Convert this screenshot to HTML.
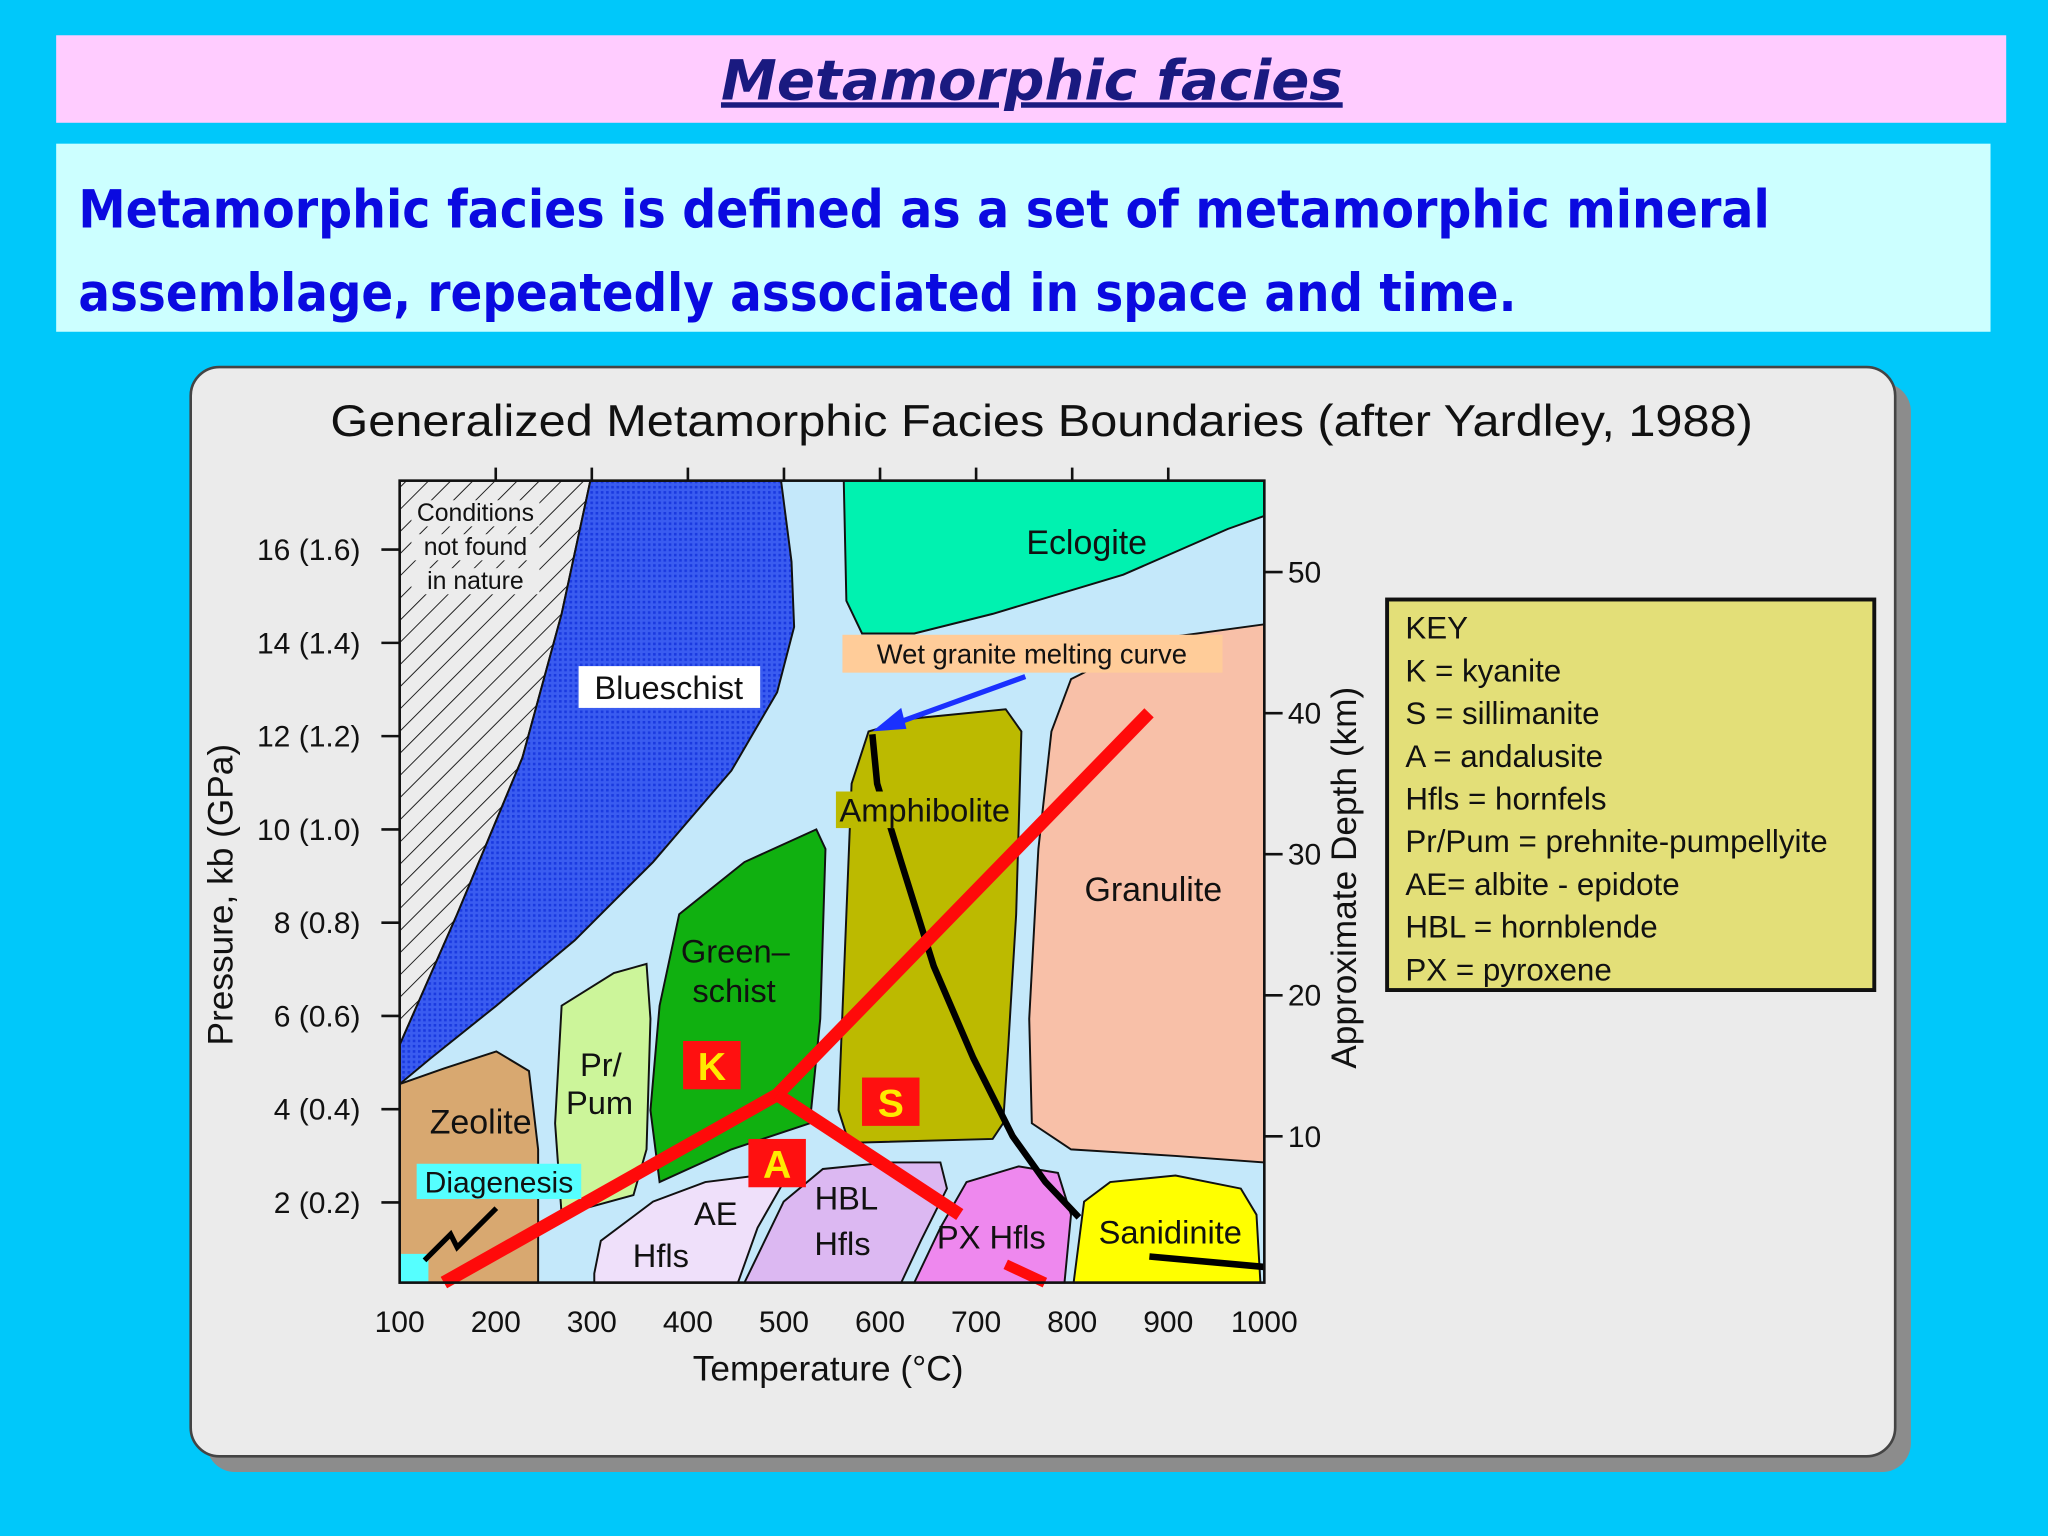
<!DOCTYPE html>
<html><head><meta charset="utf-8"><style>
html,body{margin:0;padding:0;background:#00c8fa;}
svg{display:block}
text{font-family:"Liberation Sans",sans-serif;}
.dj{font-family:"DejaVu Sans","Liberation Sans",sans-serif;}
</style></head><body>
<svg width="2048" height="1536" viewBox="0 0 1568 1176" xmlns="http://www.w3.org/2000/svg">
<defs>
<pattern id="hatch" width="12" height="12" patternUnits="userSpaceOnUse" patternTransform="rotate(45)">
<rect width="12" height="12" fill="#ececec"/><line x1="0" y1="0" x2="0" y2="12" stroke="#111" stroke-width="1.4"/></pattern>
<pattern id="dots" width="4" height="4" patternUnits="userSpaceOnUse">
<rect width="4" height="4" fill="#3a5cf0"/><rect width="2" height="2" fill="#1a3ae0"/></pattern>
</defs>
<rect width="1568" height="1176" fill="#00c8fa"/>
<rect x="43" y="27" width="1493" height="67" fill="#ffccff"/>
<text class="dj" x="552" y="76" textLength="476" lengthAdjust="spacingAndGlyphs" font-size="42" font-weight="bold" font-style="italic" fill="#1a1a80" text-decoration="underline">Metamorphic facies</text>
<rect x="43" y="110" width="1481" height="144" fill="#ccffff"/>
<text class="dj" x="60" y="174" textLength="1295" lengthAdjust="spacingAndGlyphs" font-size="40" font-weight="bold" fill="#0a0ae0">Metamorphic facies is defined as a set of metamorphic mineral</text>
<text class="dj" x="60" y="238" textLength="1101" lengthAdjust="spacingAndGlyphs" font-size="40" font-weight="bold" fill="#0a0ae0">assemblage, repeatedly associated in space and time.</text>
<rect x="158" y="293" width="1305" height="834" rx="22" fill="#8c8c8c"/>
<rect x="146" y="281" width="1305" height="834" rx="22" fill="#ebebeb" stroke="#444" stroke-width="2"/>
<text x="253" y="334" textLength="1089" lengthAdjust="spacingAndGlyphs" font-size="34" fill="#111">Generalized Metamorphic Facies Boundaries (after Yardley, 1988)</text>
<g id="plot"></g>
<g id="axes"></g>
<rect x="1062" y="459" width="373" height="299" fill="#e3df78" stroke="#111" stroke-width="3"/>
<g id="key" font-size="24" fill="#111"></g>
</svg>
<script>
const xTickLabels=["100","200","300","400","500","600","700","800","900","1000"];
const xTickValues=[100,200,300,400,500,600,700,800,900,1000];
const yTickValues=[2,4,6,8,10,12,14,16];
const yTickLabels=["2 (0.2)","4 (0.4)","6 (0.6)","8 (0.8)","10 (1.0)","12 (1.2)","14 (1.4)","16 (1.6)"];
const depthTicks=[10,20,30,40,50];
const ksT=[493,880], ksP=[4.31,12.5];
const akT=[146,493], akP=[0.28,4.31];
const asT=[493,683], asP=[4.31,1.74];
const meltT=[592,597,622,656,697,738,772,807];
const meltP=[12.04,10.98,9.30,7.06,5.10,3.42,2.44,1.68];
const keyLines=["KEY","K = kyanite"," S = sillimanite"," A = andalusite"," Hfls = hornfels"," Pr/Pum = prehnite-pumpellyite"," AE= albite - epidote"," HBL = hornblende"," PX = pyroxene"];

const NS="http://www.w3.org/2000/svg";
const X0=306,X1=968,Y0=368,Y1=982;
const xs=t=>X0+(t-100)*(X1-X0)/900;
const ys=p=>992-p*35.7;
const yd=d=>978-d*10.8;
function mk(parent,tag,attrs,txt){const e=document.createElementNS(NS,tag);for(const k in attrs)e.setAttribute(k,attrs[k]);if(txt!==undefined)e.textContent=txt;parent.appendChild(e);return e;}
const plot=document.getElementById('plot'),axes=document.getElementById('axes'),key=document.getElementById('key');
mk(plot,'rect',{x:X0,y:Y0,width:X1-X0,height:Y1-Y0,fill:'#c4e8fa'});
function region(name,pts,fill,extra){const e=mk(plot,'polygon',Object.assign({points:pts,fill:fill,stroke:'#111','stroke-width':1.5},extra||{}));

}
region('not-found-region',"306,368 452,368 430,470 400,580 350,700 306,800",'url(#hatch)');
region('blueschist-region',"452,368 598,368 606,430 608,480 595,530 560,590 500,660 440,720 380,770 330,810 306,830 306,800 350,700 400,580 430,470",'url(#dots)');
region('eclogite-region',"646,368 968,368 968,395 940,405 860,440 760,470 700,485 660,485 648,460",'#00f2b0');
region('granulite-region',"820,520 880,490 968,478 968,890 900,885 820,880 790,860 788,780 795,650 805,560",'#f8c0a8');
region('amphibolite-region',"665,560 700,550 770,543 782,560 778,700 772,800 768,860 760,872 650,875 642,850 648,700 652,600",'#bcba00');
region('greenschist-region',"520,700 570,660 625,635 632,650 628,780 620,860 560,880 505,905 498,850 505,770",'#10b010');
region('prpum-region',"430,770 470,745 495,738 498,780 495,880 485,915 430,930 425,860",'#ccf59a');
region('zeolite-region',"306,830 340,818 380,805 405,820 412,880 412,982 306,982",'#d8a870');
region('ae-hfls-region',"455,975 460,950 500,920 540,905 580,900 600,905 580,940 565,982 455,982",'#efe0fa');
region('hbl-hfls-region',"570,982 600,920 630,895 680,890 720,890 725,910 705,950 690,982",'#dcb8f2');
region('px-hfls-region',"700,982 720,940 740,905 780,893 810,898 820,930 815,982",'#ee88ee');
region('sanidinite-region',"822,982 830,920 850,905 900,900 950,910 962,930 965,982",'#ffff00');
mk(plot,'rect',{x:306,y:960,width:22,height:22,fill:'#55ffff'});
function line(name,T,P,col,w){let d=T.map((t,i)=>(i?'L':'M')+xs(t)+','+ys(P[i])).join(' ');const e=mk(plot,'path',{d:d,fill:'none',stroke:col,'stroke-width':w,'stroke-linejoin':'round'});

}
line('melting-curve',meltT,meltP,'#000',5);
line('kyanite-andalusite-line',akT,akP,'#ff0a0a',10);
line('kyanite-sillimanite-line',ksT,ksP,'#ff0a0a',10);
line('andalusite-sillimanite-line',asT,asP,'#ff0a0a',10);
mk(plot,'path',{d:'M770,968 L800,982',stroke:'#ff0a0a','stroke-width':8});
mk(plot,'path',{d:'M325,965 L345,945 L350,955 L380,925',stroke:'#000','stroke-width':4,fill:'none'});
mk(plot,'path',{d:'M880,962 L968,970',stroke:'#000','stroke-width':5,fill:'none'});
mk(plot,'rect',{x:X0,y:Y0,width:X1-X0,height:Y1-Y0,fill:'none',stroke:'#111','stroke-width':2});
function lbl(x,y,t,size,fill,anchor){return mk(plot,'text',{x:x,y:y,'font-size':size||25,fill:fill||'#111','text-anchor':anchor||'middle'},t);}
['Conditions','not found','in nature'].forEach((t,i)=>{mk(plot,'rect',{x:315,y:383+i*26,width:98,height:20,fill:'#ececec'});lbl(364,399+i*26,t,19);});
mk(plot,'rect',{x:443,y:510,width:139,height:32,fill:'#fff'});lbl(512,535,'Blueschist',25);
lbl(832,424,'Eclogite',26);
mk(plot,'rect',{x:645,y:486,width:291,height:29,fill:'#ffcc99'});lbl(790,508,'Wet granite melting curve',21);
mk(plot,'path',{d:'M785,518 L680,556',stroke:'#1a30ff','stroke-width':4});
mk(plot,'polygon',{points:'668,560 690,542 694,558',fill:'#1a30ff'});
mk(plot,'rect',{x:640,y:606,width:138,height:28,fill:'#bcba00'});lbl(708,629,'Amphibolite',25);
lbl(883,690,'Granulite',26);
lbl(563,737,'Green–',25);lbl(562,767,'schist',25);
lbl(460,824,'Pr/',25);lbl(459,853,'Pum',25);
lbl(368,868,'Zeolite',26);
mk(plot,'rect',{x:319,y:891,width:126,height:27,fill:'#55ffff'});lbl(382,913,'Diagenesis',23);
lbl(548,938,'AE',25);lbl(506,970,'Hfls',25);
lbl(648,926,'HBL',25);lbl(645,961,'Hfls',25);
lbl(759,956,'PX Hfls',25);
lbl(896,952,'Sanidinite',25);
function box(x,y,t){mk(plot,'rect',{x:x,y:y,width:44,height:37,fill:'#ff1010'});mk(plot,'text',{x:x+22,y:y+30,'font-size':30,'font-weight':'bold',fill:'#ffea00','text-anchor':'middle'},t);}
box(523,797,'K');box(660,825,'S');box(573,872,'A');
xTickValues.forEach((v,i)=>{const t=mk(axes,'text',{x:xs(v),y:1020,'font-size':23,fill:'#111','text-anchor':'middle'},xTickLabels[i]);


if(i>0&&i<9)mk(axes,'line',{x1:xs(v),x2:xs(v),y1:358,y2:368,stroke:'#111','stroke-width':2});});
yTickValues.forEach((v,i)=>{mk(axes,'line',{x1:292,x2:306,y1:ys(v),y2:ys(v),stroke:'#111','stroke-width':2});
const t=mk(axes,'text',{x:276,y:ys(v)+8,'font-size':23,fill:'#111','text-anchor':'end'},yTickLabels[i]);

});
depthTicks.forEach(v=>{mk(axes,'line',{x1:968,x2:982,y1:yd(v),y2:yd(v),stroke:'#111','stroke-width':2});
const t=mk(axes,'text',{x:986,y:yd(v)+8,'font-size':23,fill:'#111'},String(v));

});
const xt=mk(axes,'text',{x:634,y:1057,'font-size':27,fill:'#111','text-anchor':'middle'},'Temperature (°C)');


const yt=mk(axes,'text',{x:0,y:0,'font-size':27,fill:'#111','text-anchor':'middle',transform:'translate(178,685) rotate(-90)'},'Pressure, kb (GPa)');


const rt=mk(axes,'text',{x:0,y:0,'font-size':27,fill:'#111','text-anchor':'middle',transform:'translate(1038,672) rotate(-90)'},'Approximate Depth (km)');


keyLines.forEach((t,i)=>{const e=mk(key,'text',{x:1076,y:489+i*32.7,'xml:space':'preserve'},t);

});
</script>
</body></html>
